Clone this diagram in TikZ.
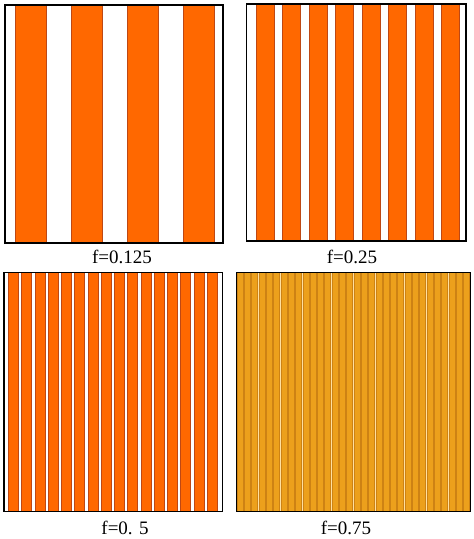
\documentclass[tikz,border=0pt]{standalone}
\usepackage{fontspec}
\setmainfont{Liberation Serif}
\usetikzlibrary{positioning}

\definecolor{stripeorange}{RGB}{255,104,0}
\definecolor{stripeedge}{RGB}{190,72,20}
\definecolor{amberfill}{RGB}{236,160,28}
\definecolor{amberdark}{RGB}{205,130,20}
\definecolor{amberlight}{RGB}{255,224,160}

\begin{document}
\begin{tikzpicture}[x=1pt,y=-1pt,
  stripe/.style={fill=stripeorange,draw=stripeedge,line width=0.8pt},
  finestripe/.style={fill=amberfill,draw=amberdark,line width=0.7pt},
  frame/.style={draw=black,line width=1.3pt},
  caption/.style={font=\fontsize{19}{19}\selectfont,inner sep=0pt}]
  \useasboundingbox (0,0) rectangle (474,539);

  % f=0.125: 4 stripes, period 56
  \coordinate (A1) at (5,5);
  \coordinate (A2) at (223,243);
  \foreach \i in {0,...,3}
    \draw[stripe] (15.5+56*\i,5) rectangle ++(30.5,238);
  \draw[frame] (A1) rectangle (A2);
  \node[caption] (fa) at (122,257) {f=0.125};

  % f=0.25: 8 stripes, period 26.5
  \coordinate (B1) at (246.5,4);
  \coordinate (B2) at (466,241);
  \foreach \i in {0,...,7}
    \draw[stripe] (256+26.5*\i,4) rectangle ++(18,237);
  \draw[frame] (B1) rectangle (B2);
  \node[caption] (fb) at (352,257) {f=0.25};

  % f=0.5: 16 stripes, period 13.25
  \coordinate (C1) at (4,272.5);
  \coordinate (C2) at (222.5,511.5);
  \foreach \i in {0,...,15}
    \draw[stripe] (8.5+13.25*\i,272.5) rectangle ++(10,239);
  \draw[frame] (C1) rectangle (C2);
  \node[caption] (fc) at (125,528) {f=0. 5};

  % f=0.75: 32 fine stripes, period ~7.3
  \coordinate (D1) at (236.5,272.5);
  \coordinate (D2) at (470.5,511.5);
  \fill[amberlight] (D1) rectangle (D2);
  \foreach \i in {0,...,31}
    \draw[finestripe] (237.2+7.3*\i,272.5) rectangle ++(6,239);
  \draw[frame] (D1) rectangle (D2);
  \node[caption] (fd) at (346,528) {f=0.75};
\end{tikzpicture}
\end{document}
